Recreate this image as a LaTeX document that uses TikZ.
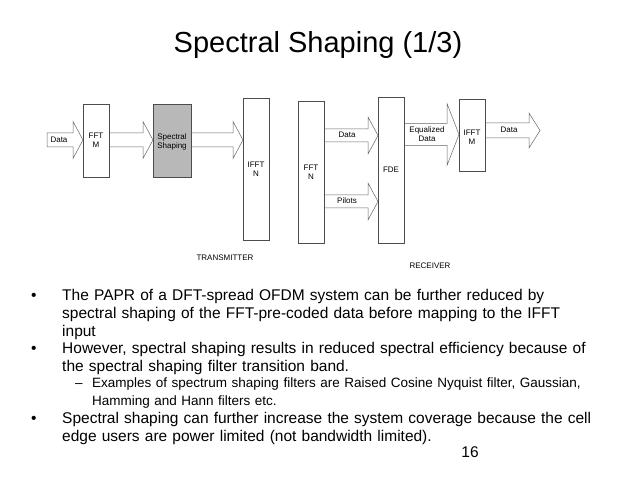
\documentclass[tikz,border=0pt]{standalone}
\usepackage{fontspec}
\setmainfont{Liberation Sans}
\usetikzlibrary{positioning}
\tikzset{%
  blk/.style={draw=black!70,fill=white,inner sep=0pt,align=center,font=\fontsize{8}{9}\selectfont},
  lbl/.style={inner sep=1pt,align=center,font=\fontsize{8}{9}\selectfont},
  fat/.style={draw=black!60,fill=white,line width=.5pt},
  bul/.style={anchor=north west,inner sep=0pt,text width=#1,align=left,font=\fontsize{15.5}{18}\selectfont},
  dot/.style={anchor=base west,inner sep=0pt,font=\fontsize{15.5}{18}\selectfont},
}
% fat arrow: x1, x2 (tip), y centre, body half, head half, head length
\newcommand{\fatarrow}[6]{%
  \draw[fat] (#1,#3-#4) -- (#2-#6,#3-#4) -- (#2-#6,#3-#5) -- (#2,#3)
    -- (#2-#6,#3+#5) -- (#2-#6,#3+#4) -- (#1,#3+#4) -- cycle;}
\begin{document}
\begin{tikzpicture}[x=1pt,y=-1pt]
\useasboundingbox (0,0) rectangle (638,478);
\node[font=\fontsize{29}{32}\selectfont] (title) at (318,45) {Spectral Shaping (1/3)};
% arrows
\fatarrow{47}{83}{140}{7}{18.5}{10}
\fatarrow{109}{153}{140}{7}{18.5}{10}
\fatarrow{191}{243}{140}{7}{18.5}{10}
\fatarrow{324}{378}{135.5}{6.5}{18.5}{10}
\fatarrow{324}{378}{201.5}{6.5}{18.5}{10}
\fatarrow{404}{459}{134.5}{11}{31}{12}
\fatarrow{485}{540}{130.5}{7.5}{17.5}{11}
% blocks
\node[blk,minimum width=26pt,minimum height=73pt] (fftm) at (96,140.5) {FFT\\M};
\node[blk,fill=black!28,minimum width=38pt,minimum height=73pt,text height=18pt] (shap) at (172,140.5) {Spectral\\Shaping};
\node[blk,minimum width=26pt,minimum height=142pt] (ifftn) at (256,169) {IFFT\\N};
\node[blk,minimum width=26pt,minimum height=142pt] (fftn) at (311,172) {FFT\\N};
\node[blk,minimum width=26pt,minimum height=146pt] (fde) at (391,170) {FDE};
\node[blk,minimum width=26pt,minimum height=72pt,text height=20pt] (ifftm) at (472,135) {IFFT\\M};
% arrow labels
\node[lbl] (din) at (59,140) {Data};
\node[lbl] (dat) at (347,135) {Data};
\node[lbl] (pil) at (347,201) {Pilots};
\node[lbl] (eq) at (427,134) {Equalized\\Data};
\node[lbl] (dout) at (509,130) {Data};
\node[lbl] (tx) at (225,258) {TRANSMITTER};
\node[lbl] (rx) at (430,266) {RECEIVER};
% bullets
\node[dot] at (31,301) {•};
\node[bul=500pt] (b1) at (62,289) {The PAPR of a DFT-spread OFDM system can be further reduced by spectral shaping of the FFT-pre-coded data before mapping to the IFFT input};
\node[dot] at (31,354) {•};
\node[bul=530pt] (b2) at (62,342) {However, spectral shaping results in reduced spectral efficiency because of the spectral shaping filter transition band.};
\node[anchor=base west,inner sep=0pt,font=\fontsize{13.5}{16}\selectfont] at (75,388) {–};
\node[bul=500pt,font=\fontsize{13.5}{17.5}\selectfont] (b3) at (92,378) {Examples of spectrum shaping filters are Raised Cosine Nyquist filter, Gaussian, Hamming and Hann filters etc.};
\node[dot] at (31,424) {•};
\node[bul=540pt] (b4) at (62,412) {Spectral shaping can further increase the system coverage because the cell edge users are power limited (not bandwidth limited).};
\node[font=\fontsize{15.5}{18}\selectfont] (pg) at (470,452) {16};
\end{tikzpicture}
\end{document}
